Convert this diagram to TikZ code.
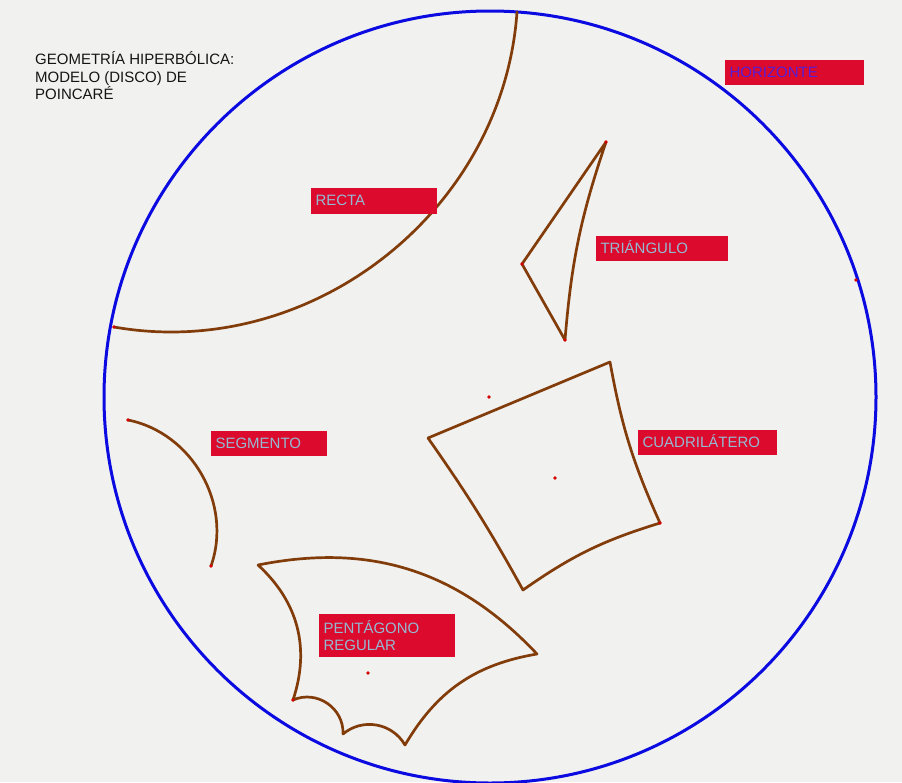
\documentclass[tikz,border=0pt]{standalone}
\usepackage{fontspec}
\setmainfont{Liberation Sans}
\definecolor{bgc}{RGB}{241,241,240}
\definecolor{horizonblue}{RGB}{10,10,225}
\definecolor{brownc}{RGB}{130,60,10}
\definecolor{lblred}{RGB}{220,10,45}
\definecolor{lbltxt}{RGB}{150,185,210}
\definecolor{hztxt}{RGB}{85,30,215}
\definecolor{dotred}{RGB}{215,0,0}
\definecolor{titletxt}{RGB}{20,20,20}
\begin{document}
\begin{tikzpicture}[x=1pt,y=1pt,
  horizon/.style={draw=horizonblue,line width=3pt},
  geo/.style={draw=brownc,line width=2.7pt,line join=round,line cap=round},
  lbl/.style={fill=lblred,text=lbltxt,anchor=north west,inner xsep=4.3pt,inner ysep=0pt,
    align=left,font=\fontsize{15pt}{17pt}\selectfont,text height=10.8pt,text depth=0pt},
  lbltwo/.style={fill=lblred,text=lbltxt,anchor=north west,inner xsep=4.3pt,inner ysep=0pt,
    align=left,font=\fontsize{15pt}{17pt}\selectfont},
  titletext/.style={anchor=base west,inner sep=0pt,text=titletxt,font=\fontsize{15pt}{18pt}\selectfont},
  dotnode/.style={circle,fill=dotred,inner sep=0pt,minimum size=3.6pt}
]
\fill[bgc] (0,0) rectangle (902,-782);
\path[use as bounding box] (0,0) rectangle (902,-782);

% horizon
\coordinate (O) at (490,-397);
\draw[horizon] (O) circle (386);

% vertices
\coordinate (rA) at (114,-327);
\coordinate (rB) at (517,-12);
\coordinate (sA) at (128,-420);
\coordinate (sB) at (211,-566);
\coordinate (tT) at (606,-142);
\coordinate (tL) at (522,-264);
\coordinate (tB) at (565,-340);
\coordinate (q1) at (610,-362);
\coordinate (q2) at (428,-438);
\coordinate (q3) at (523,-590);
\coordinate (q4) at (660,-523);
\coordinate (pA) at (258,-565);
\coordinate (pB) at (537,-654);
\coordinate (pC) at (405,-745);
\coordinate (pD) at (343,-734);
\coordinate (pE) at (293,-700);

% recta
\draw[geo] (rA) to[bend right=48] (rB);
% segmento
\draw[geo] (sA) to[bend left=49] (sB);
% triangulo
\draw[geo] (tT) -- (tL) -- (tB) to[bend left=7] (tT);
% cuadrilatero
\draw[geo] (q2) -- (q1) to[bend right=7] (q4) to[bend right=9] (q3) to[bend right=3] (q2);
% pentagono
\draw[geo] (pA) to[bend left=29] (pB) to[bend right=25] (pC)
  to[bend right=50,looseness=1.04] (pD) to[bend right=58,looseness=1.1] (pE)
  to[bend right=33] (pA);

% dots
\node[dotnode] (d1) at (rA) {};
\node[dotnode] (d2) at (856,-280) {};
\node[dotnode] (d3) at (489,-397) {};
\node[dotnode] (d4) at (555,-478) {};
\node[dotnode] (d5) at (q4) {};
\node[dotnode] (d6) at (368,-673) {};
\node[dotnode] (d7) at (pE) {};
\node[dotnode] (d8) at (sA) {};
\node[dotnode] (d9) at (sB) {};
\node[dotnode] (d10) at (tT) {};
\node[dotnode] (d11) at (tL) {};
\node[dotnode] (d12) at (tB) {};

% title
\node[titletext] (ti1) at (35,-64.3) {GEOMETRÍA HIPERBÓLICA:};
\node[titletext] (ti2) at (35,-82.3) {MODELO (DISCO) DE};
\node[titletext] (ti3) at (35,-99.8) {POINCARÉ};

% labels
\node[lbl,text=hztxt,text width=130.4pt,minimum height=24.3pt] (lhz) at (725,-60) {HORIZONTE};
\node[lbl,text width=117.1pt,minimum height=26pt] (lre) at (311,-187.3) {RECTA};
\node[lbl,text width=123.4pt,minimum height=24.7pt] (ltr) at (596,-236) {TRIÁNGULO};
\node[lbl,text width=107.4pt,minimum height=24.7pt] (lse) at (211,-431) {SEGMENTO};
\node[lbl,text width=130.1pt,minimum height=24.3pt] (lcu) at (638,-430) {CUADRILÁTERO};
\node[lbltwo,text width=127.1pt,minimum height=42.7pt] (lpe) at (319,-614) {PENTÁGONO\\REGULAR};
\end{tikzpicture}
\end{document}
